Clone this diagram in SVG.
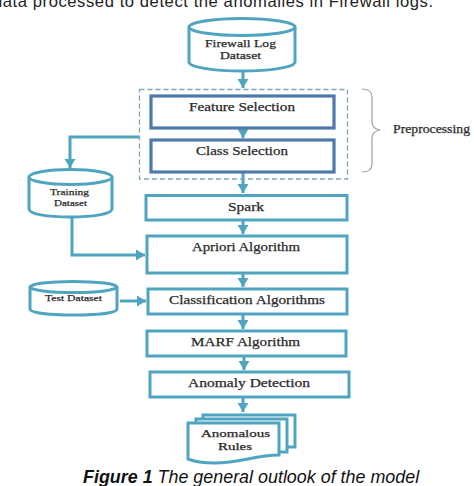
<svg xmlns="http://www.w3.org/2000/svg" width="474" height="486" viewBox="0 0 474 486">
<defs>
<style>
.box{fill:#fff;stroke:#4fa5c0;stroke-width:3}
.inner{fill:#fff;stroke:#4f79a8;stroke-width:3.2}
.cyl{fill:#fff;stroke:#4fa5c0;stroke-width:3}
.conn{fill:none;stroke:#4fa5c0;stroke-width:3}
text.t,text.s,text.d{font-family:"Liberation Serif",serif;fill:#2a2a2a;stroke:#2a2a2a;stroke-width:.25}
text.t{font-size:12.500px}
text.d{font-size:11px}
text.s{font-size:8.800px}
</style>
<marker id="a" markerUnits="userSpaceOnUse" markerWidth="12" markerHeight="12" refX="9" refY="6" orient="auto"><path d="M0 .5L9 6L0 11.500Z" fill="#4fa5c0"/></marker>
</defs>
<rect width="474" height="486" fill="#fff"/>
<text x="-7" y="7" font-family="Liberation Sans,sans-serif" font-size="16.6" fill="#222" textLength="440">data processed to detect the anomalies in Firewall logs.</text>
<g id="connectors">
<path class="conn" marker-end="url(#a)" d="M243 72V88"/>
<path class="conn" marker-end="url(#a)" d="M243 128V138"/>
<path class="conn" marker-end="url(#a)" d="M243 172V193"/>
<path class="conn" marker-end="url(#a)" d="M243 220V234"/>
<path class="conn" marker-end="url(#a)" d="M243 273V287"/>
<path class="conn" marker-end="url(#a)" d="M243 314V329"/>
<path class="conn" marker-end="url(#a)" d="M244 356V370"/>
<path class="conn" marker-end="url(#a)" d="M243 397V412"/>
<path class="conn" marker-end="url(#a)" d="M139 137H70V168"/>
<path class="conn" marker-end="url(#a)" d="M72 217V255H145"/>
<path class="conn" marker-end="url(#a)" d="M120 301H146"/>
</g>
<g id="firewall-log-dataset">
<path class="cyl" d="M189 27V62C189 67 213 71 242 71S295 67 295 62V27"/>
<ellipse class="cyl" cx="242" cy="27" rx="53" ry="8.500"/>
<text class="d" x="205" y="46.500" textLength="71" lengthAdjust="spacingAndGlyphs">Firewall Log</text>
<text class="d" x="220" y="59" textLength="41" lengthAdjust="spacingAndGlyphs">Dataset</text>
</g>
<g id="preprocessing-group">
<rect x="139.500" y="89.500" width="208" height="89.500" fill="none" stroke="#7fa9b5" stroke-width="1.300" stroke-dasharray="5 3"/>
</g>
<g id="feature-selection">
<rect class="inner" x="151" y="96" width="183" height="32"/>
<text class="t" x="189" y="111" textLength="106" lengthAdjust="spacingAndGlyphs">Feature Selection</text>
</g>
<g id="class-selection">
<rect class="inner" x="151" y="140" width="183" height="32"/>
<text class="t" x="196" y="155" textLength="92" lengthAdjust="spacingAndGlyphs">Class Selection</text>
</g>
<g id="preprocessing-brace">
<path d="M362 89C369 89 372 92 372 97V122C372 126 375 129 380 130C375 131 372 134 372 138V164C372 169 369 172 362 172" fill="none" stroke="#9aa5a8" stroke-width="1.200"/>
<text class="t" x="393" y="133" textLength="77" lengthAdjust="spacingAndGlyphs">Preprocessing</text>
</g>
<g id="training-dataset">
<path class="cyl" d="M29 177V209C29 214 47 217 70 217S112 214 112 209V177"/>
<ellipse class="cyl" cx="70.500" cy="177" rx="41.500" ry="7.500"/>
<text class="s" x="50" y="195" textLength="39" lengthAdjust="spacingAndGlyphs">Training</text>
<text class="s" x="54" y="206" textLength="33" lengthAdjust="spacingAndGlyphs">Dataset</text>
</g>
<g id="spark">
<rect class="box" x="146" y="195.500" width="201" height="24.500"/>
<text class="t" x="228" y="211" textLength="36" lengthAdjust="spacingAndGlyphs">Spark</text>
</g>
<g id="apriori-algorithm">
<rect class="box" x="147" y="236" width="200" height="37"/>
<text class="t" x="192" y="251" textLength="108" lengthAdjust="spacingAndGlyphs">Apriori Algorithm</text>
</g>
<g id="test-dataset">
<path class="cyl" d="M30 287V309C30 313 50 315 74 315S117 313 117 309V287"/>
<ellipse class="cyl" cx="73.500" cy="287" rx="43.500" ry="5.500"/>
<text class="s" x="45" y="301" textLength="57" lengthAdjust="spacingAndGlyphs">Test Dataset</text>
</g>
<g id="classification-algorithms">
<rect class="box" x="148" y="289" width="199" height="25"/>
<text class="t" x="169" y="304" textLength="156" lengthAdjust="spacingAndGlyphs">Classification Algorithms</text>
</g>
<g id="marf-algorithm">
<rect class="box" x="147" y="331" width="199" height="25"/>
<text class="t" x="191" y="346" textLength="109" lengthAdjust="spacingAndGlyphs">MARF Algorithm</text>
</g>
<g id="anomaly-detection">
<rect class="box" x="150" y="372" width="199" height="25"/>
<text class="t" x="188" y="387" textLength="122" lengthAdjust="spacingAndGlyphs">Anomaly Detection</text>
</g>
<g id="anomalous-rules">
<path class="cyl" d="M203 419V415H295V447H287"/>
<path class="cyl" d="M196 423V419H287V452H279"/>
<path class="cyl" d="M188 423H279V455C255 455 240 463 215 463C203 463 195 462 188 459Z"/>
<text class="d" x="201" y="437" textLength="69" lengthAdjust="spacingAndGlyphs">Anomalous</text>
<text class="d" x="218" y="449.500" textLength="34" lengthAdjust="spacingAndGlyphs">Rules</text>
</g>
<text x="83" y="483" font-family="Liberation Sans,sans-serif" font-size="17.900" font-style="italic" fill="#111"><tspan font-weight="700">Figure 1</tspan> The general outlook of the model</text>
</svg>
